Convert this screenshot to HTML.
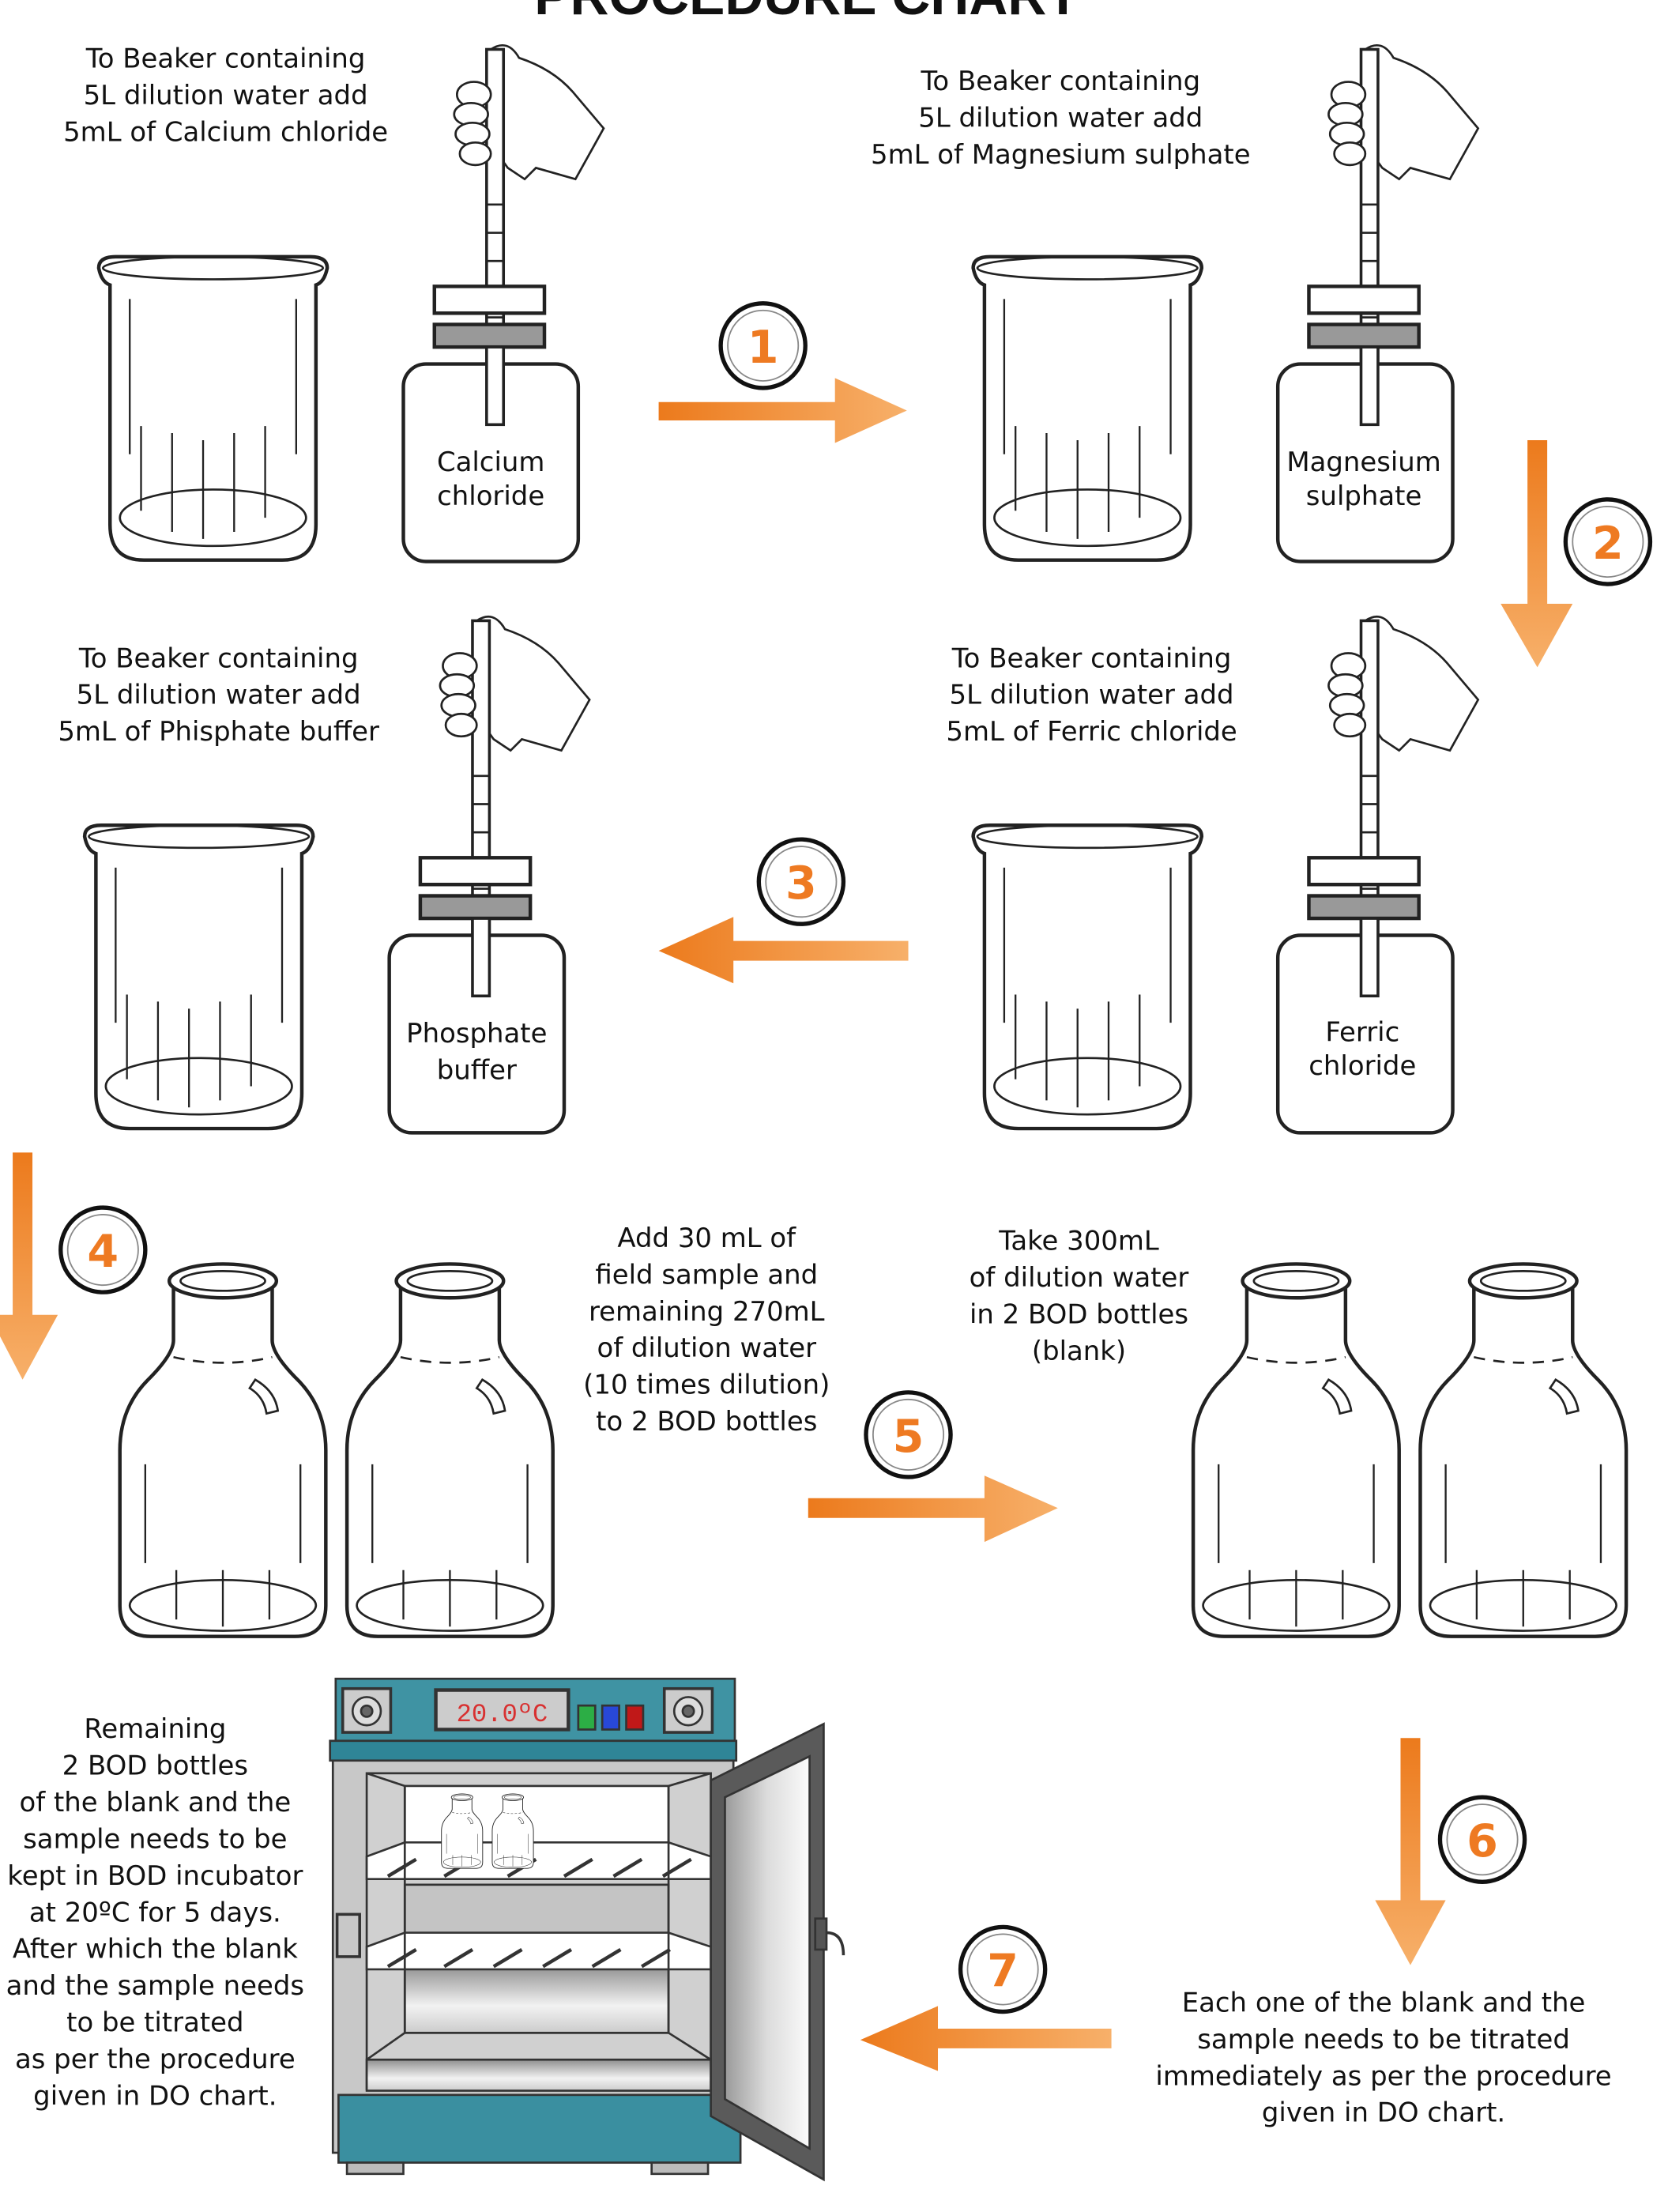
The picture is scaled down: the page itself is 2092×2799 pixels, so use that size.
<!DOCTYPE html>
<html><head><meta charset="utf-8"><style>
html,body{margin:0;padding:0;background:#fff}
svg{display:block}
text{font-family:"DejaVu Sans","Liberation Sans",sans-serif;fill:#111}
</style></head><body>
<svg width="2092" height="2799" viewBox="0 0 1172 1568" preserveAspectRatio="none" xmlns="http://www.w3.org/2000/svg">
<defs>
<linearGradient id="og" x1="0" y1="0" x2="1" y2="0"><stop offset="0" stop-color="#ec7a1c"/><stop offset="1" stop-color="#f7b06a"/></linearGradient>
<linearGradient id="ogv" x1="0" y1="0" x2="0" y2="1"><stop offset="0" stop-color="#ec7a1c"/><stop offset="1" stop-color="#f7b06a"/></linearGradient>
<linearGradient id="door" x1="0" y1="0" x2="1" y2="0"><stop offset="0" stop-color="#9a9a9a"/><stop offset="0.5" stop-color="#dcdcdc"/><stop offset="1" stop-color="#fafafa"/></linearGradient>
<linearGradient id="low" x1="0" y1="0" x2="0" y2="1"><stop offset="0" stop-color="#8f8f8f"/><stop offset="0.6" stop-color="#f2f2f2"/><stop offset="1" stop-color="#ccc"/></linearGradient>
<g id="beaker" fill="none" stroke="#222" stroke-width="2.5">
<path d="M0 8 Q0 0 12 0 L150 0 Q162 0 162 8 Q160 18 154 20 L154 190 Q154 215 130 215 L32 215 Q8 215 8 190 L8 20 Q2 18 0 8 Z" fill="#fff"/>
<ellipse cx="81" cy="8" rx="78" ry="8" stroke-width="1.5"/>
<ellipse cx="81" cy="185" rx="66" ry="20" stroke-width="1.5"/>
<path d="M22 30 V140 M140 30 V140 M30 120 V180 M52 125 V195 M74 130 V200 M96 125 V195 M118 120 V185" stroke-width="1.3"/>
</g>
<g id="rb" fill="none" stroke="#222" stroke-width="2.5">
<path d="M28 0 Q40 -8 48 6 Q72 14 86 30 L108 56 L88 92 L60 84 L52 92 L40 84 L30 70 Z" fill="#fff" stroke-width="1.5"/>
<rect x="25" y="0" width="12" height="268" fill="#fff" stroke-width="2"/>
<path d="M25 110 h12 M25 130 h12 M25 150 h12 M25 170 h12 M25 190 h12" stroke-width="1.5"/>
<g fill="#fff" stroke-width="1.5">
<ellipse cx="16" cy="32" rx="12" ry="9"/><ellipse cx="14" cy="46" rx="12" ry="8"/><ellipse cx="15" cy="60" rx="12" ry="8"/><ellipse cx="17" cy="74" rx="11" ry="8"/>
</g>
<rect x="-12" y="168" width="78" height="19" fill="#fff"/>
<rect x="-12" y="195" width="78" height="16" fill="#999"/>
<rect x="-34" y="223" width="124" height="140" rx="16" fill="#fff"/>
<rect x="25" y="211" width="12" height="55" fill="#fff" stroke-width="2"/>
</g>
<g id="bod" fill="none" stroke="#222" stroke-width="2.5">
<path d="M38 12 L38 52 Q38 62 20 80 Q0 100 0 130 L0 240 Q0 262 22 262 L124 262 Q146 262 146 240 L146 130 Q146 100 126 80 Q108 62 108 52 L108 12 Z" fill="#fff"/>
<ellipse cx="73" cy="10" rx="38" ry="12" fill="#fff"/>
<ellipse cx="73" cy="10" rx="30" ry="7" stroke-width="1.5"/>
<path d="M38 64 Q73 72 108 64" stroke-dasharray="8 6" stroke-width="1.5"/>
<path d="M96 80 q14 8 16 22 l-8 2 q-2 -12 -12 -18 z" stroke-width="1.5"/>
<ellipse cx="73" cy="240" rx="66" ry="18" stroke-width="1.5"/>
<path d="M18 140 V210 M128 140 V210 M40 215 V250 M73 215 V255 M106 215 V250" stroke-width="1.3"/>
</g>
<g id="num"><circle r="30" fill="#fff" stroke="#111" stroke-width="3"/><circle r="25" fill="none" stroke="#888" stroke-width="1"/></g>
</defs>

<text x="572" y="10" text-anchor="middle" font-weight="bold" font-size="38" style="font-family:'Liberation Sans',sans-serif">PROCEDURE CHART</text>

<g font-size="19" text-anchor="middle">
<text x="160" y="48">To Beaker containing</text><text x="160" y="74">5L dilution water add</text><text x="160" y="100">5mL of Calcium chloride</text>
<text x="752" y="64">To Beaker containing</text><text x="752" y="90">5L dilution water add</text><text x="752" y="116">5mL of Magnesium sulphate</text>
<text x="155" y="473">To Beaker containing</text><text x="155" y="499">5L dilution water add</text><text x="155" y="525">5mL of Phisphate buffer</text>
<text x="774" y="473">To Beaker containing</text><text x="774" y="499">5L dilution water add</text><text x="774" y="525">5mL of  Ferric chloride</text>
</g>
<use href="#beaker" x="70" y="182"/>
<use href="#rb" x="320" y="35"/>
<use href="#beaker" x="690" y="182"/>
<use href="#rb" x="940" y="35"/>
<use href="#beaker" x="60" y="585"/>
<use href="#rb" x="310" y="440"/>
<use href="#beaker" x="690" y="585"/>
<use href="#rb" x="940" y="440"/>
<g font-size="19" text-anchor="middle">
<text x="348" y="334">Calcium</text><text x="348" y="358">chloride</text>
<text x="967" y="334">Magnesium</text><text x="967" y="358">sulphate</text>
<text x="338" y="739">Phosphate</text><text x="338" y="765">buffer</text>
<text x="966" y="738">Ferric</text><text x="966" y="762">chloride</text>
</g>

<path d="M467 285 H592 V268 L643 291 L592 314 V298 H467 Z" fill="url(#og)"/>
<path d="M1083 312 H1097 V428 H1115 L1090 473 L1064 428 H1083 Z" fill="url(#ogv)"/>
<path d="M644 667 H520 V650 L467 674 L520 697 V681 H644 Z" fill="url(#og)"/>
<path d="M9 817 H23 V932 H41 L16 978 L-8 932 H9 Z" fill="url(#ogv)"/>
<path d="M573 1062 H698 V1046 L750 1069 L698 1093 V1076 H573 Z" fill="url(#og)"/>
<path d="M993 1232 H1007 V1347 H1025 L1000 1393 L975 1347 H993 Z" fill="url(#ogv)"/>
<path d="M788 1438 H665 V1422 L610 1446 L665 1468 V1452 H788 Z" fill="url(#og)"/>
<g font-weight="bold" font-size="32" text-anchor="middle" style="font-family:'Liberation Sans',sans-serif">
<use href="#num" x="541" y="245"/><text x="541" y="257" style="fill:#ee7a22">1</text>
<use href="#num" x="1140" y="384"/><text x="1140" y="396" style="fill:#ee7a22">2</text>
<use href="#num" x="568" y="625"/><text x="568" y="637" style="fill:#ee7a22">3</text>
<use href="#num" x="73" y="886"/><text x="73" y="898" style="fill:#ee7a22">4</text>
<use href="#num" x="644" y="1017"/><text x="644" y="1029" style="fill:#ee7a22">5</text>
<use href="#num" x="1051" y="1304"/><text x="1051" y="1316" style="fill:#ee7a22">6</text>
<use href="#num" x="711" y="1396"/><text x="711" y="1408" style="fill:#ee7a22">7</text>
</g>

<use href="#bod" x="85" y="898"/>
<use href="#bod" x="246" y="898"/>
<use href="#bod" x="846" y="898"/>
<use href="#bod" x="1007" y="898"/>
<g font-size="19" text-anchor="middle">
<text x="501" y="884">Add 30 mL of</text><text x="501" y="910">field sample and</text><text x="501" y="936">remaining 270mL</text><text x="501" y="962">of dilution water</text><text x="501" y="988">(10 times dilution)</text><text x="501" y="1014">to 2 BOD bottles</text>
<text x="765" y="886">Take 300mL</text><text x="765" y="912">of dilution water</text><text x="765" y="938">in 2 BOD bottles</text><text x="765" y="964">(blank)</text>
<text x="110" y="1232">Remaining</text><text x="110" y="1258">2 BOD bottles</text><text x="110" y="1284">of the blank and the</text><text x="110" y="1310">sample needs to be</text><text x="110" y="1336">kept in BOD incubator</text><text x="110" y="1362">at 20ºC for 5 days.</text><text x="110" y="1388">After which the blank</text><text x="110" y="1414">and the sample needs</text><text x="110" y="1440">to be titrated</text><text x="110" y="1466">as per the procedure</text><text x="110" y="1492">given in DO chart.</text>
<text x="981" y="1426">Each one of the blank and the</text><text x="981" y="1452">sample needs to be titrated</text><text x="981" y="1478">immediately as per the procedure</text><text x="981" y="1504">given in DO chart.</text>
</g>

<g stroke="#333" stroke-width="1.5">
<rect x="236" y="1236" width="284" height="290" fill="#c8c8c8"/>
<rect x="238" y="1190" width="283" height="44" fill="#3f93a3"/>
<rect x="234" y="1234" width="288" height="14" fill="#2f8597"/>
<rect x="243" y="1197" width="34" height="31" fill="#ccc" stroke-width="2"/>
<circle cx="260" cy="1213" r="10" fill="#ddd"/><circle cx="260" cy="1213" r="4" fill="#666"/>
<rect x="471" y="1197" width="34" height="31" fill="#ccc" stroke-width="2"/>
<circle cx="488" cy="1213" r="10" fill="#ddd"/><circle cx="488" cy="1213" r="4" fill="#666"/>
<rect x="309" y="1198" width="94" height="28" fill="#ccc" stroke-width="2.5"/>
<rect x="410" y="1209" width="12" height="17" fill="#2cae45"/>
<rect x="427" y="1209" width="12" height="17" fill="#2848d8"/>
<rect x="444" y="1209" width="12" height="17" fill="#c01818"/>
<rect x="260" y="1257" width="244" height="224" fill="#d0d0d0"/>
<rect x="287" y="1266" width="187" height="50" fill="#fff"/>
<rect x="287" y="1336" width="187" height="45" fill="#c4c4c4"/>
<rect x="287" y="1393" width="187" height="48" fill="url(#low)"/>
<rect x="260" y="1460" width="244" height="22" fill="url(#low)"/>
<path d="M260 1316 L287 1306 H474 L504 1316 V1332 H260 Z" fill="#fff"/>
<path d="M260 1380 L287 1370 H474 L504 1380 V1396 H260 Z" fill="#fff"/>
<path d="M260 1257 L287 1266 M504 1257 L474 1266 M287 1266 V1441 M474 1266 V1441 M260 1460 L287 1441 H474 L504 1460" fill="none"/>
<path d="M275 1330 l20 -12 M315 1330 l20 -12 M360 1330 l20 -12 M400 1330 l20 -12 M435 1330 l20 -12 M470 1330 l20 -12 M275 1394 l20 -12 M315 1394 l20 -12 M350 1394 l20 -12 M385 1394 l20 -12 M420 1394 l20 -12 M455 1394 l20 -12" stroke-width="2.5" fill="none"/>
<rect x="239" y="1357" width="16" height="30" fill="none" stroke-width="2"/>
<rect x="240" y="1485" width="285" height="48" fill="#3a8fa0"/>
<rect x="246" y="1533" width="40" height="8" fill="#bbb"/>
<rect x="462" y="1533" width="40" height="8" fill="#bbb"/>
<path d="M504 1262 L584 1222 V1545 L504 1500 Z" fill="#5a5a5a"/>
<path d="M514 1274 L574 1245 V1523 L514 1488 Z" fill="url(#door)"/>
<rect x="578" y="1360" width="8" height="22" fill="#555"/>
<path d="M586 1370 q12 0 12 16" fill="none" stroke-width="2"/>
</g>
<g transform="translate(313 1272) scale(0.2)"><use href="#bod"/></g>
<g transform="translate(349 1272) scale(0.2)"><use href="#bod"/></g>
<text x="356" y="1220" text-anchor="middle" font-size="18" style="fill:#d83030;font-family:'Liberation Mono',monospace">20.0ºC</text>
</svg>
</body></html>
